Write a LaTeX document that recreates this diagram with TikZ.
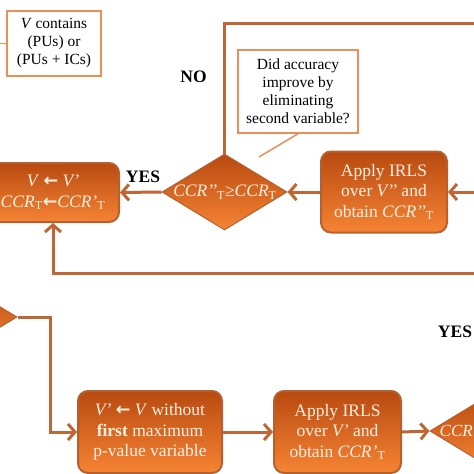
\documentclass[tikz,border=0pt]{standalone}
\usepackage{fontspec}
\setmainfont{Liberation Serif}
\newfontfamily\dv{DejaVu Sans}
\usetikzlibrary{shapes.geometric,arrows.meta}
\definecolor{lineC}{RGB}{192,102,52}
\definecolor{boxTop}{RGB}{184,74,16}
\definecolor{boxBot}{RGB}{246,132,52}
\definecolor{boxLine}{RGB}{182,96,48}
\definecolor{callC}{RGB}{236,142,88}
\definecolor{txtC}{RGB}{255,240,226}
\newcommand{\larr}{{\dv\bfseries ←}}
\newcommand{\sT}{\textsubscript{T}}
\begin{document}
\begin{tikzpicture}[x=1pt,y=-1pt,
  conn/.style={draw=lineC,line width=3pt},
  arr/.style={conn,-{Straight Barb[length=7pt,width=16pt]}},
  procbox/.style={rectangle,rounded corners=10pt,draw=boxLine,line width=2pt,
    top color=boxTop,bottom color=boxBot,text=txtC,align=center,
    font=\fontsize{17.5}{20.5}\selectfont,inner sep=0pt},
  decide/.style={diamond,draw=boxLine,line width=1pt,top color=boxTop,
    bottom color=boxBot,inner sep=0pt,minimum width=125pt,minimum height=76pt},
  dtext/.style={text=txtC,font=\fontsize{17.5}{20}\selectfont,inner sep=0pt},
  callbox/.style={rectangle,draw=callC,line width=1.5pt,fill=white,align=center,
    text=black,font=\fontsize{15.5}{18}\selectfont,inner sep=0pt},
  callline/.style={draw=callC,line width=1.5pt},
  answer/.style={font=\fontsize{17.5}{20}\selectfont\bfseries,text=black,inner sep=0pt}
]
\useasboundingbox (0,0) rectangle (474,474);
\clip (0,0) rectangle (474,474);

% callouts
\node[callbox,minimum width=94pt,minimum height=65pt] (call1) at (54,43.5)
  {\textit{V} contains\\(PUs) or\\(PUs + ICs)};
\node[callbox,minimum width=120pt,minimum height=83pt] (call2) at (298,91.5)
  {Did accuracy\\improve by\\eliminating\\second variable?};

% process boxes
\node[procbox,minimum width=132pt,minimum height=59pt] (vbox) at (53,192.5)
  {\textit{V} \larr{} \textit{V’}\\\textit{CCR}\sT\larr\textit{CCR’}\sT};
\node[procbox,minimum width=126pt,minimum height=81pt] (apply2) at (384,192)
  {Apply IRLS\\over \textit{V’’} and\\obtain \textit{CCR’’}\sT};
\node[procbox,minimum width=144pt,minimum height=82pt] (box3) at (150,432)
  {\textit{V’} \larr{} \textit{V} without\\\textbf{first} maximum\\p-value variable};
\node[procbox,minimum width=127pt,minimum height=82pt] (box4) at (337.5,432)
  {Apply IRLS\\over \textit{V’} and\\obtain \textit{CCR’}\sT};

% decisions
\node[decide] (d1) at (224.5,192) {};
\node[dtext] (d1t) at (225,192) {\textit{CCR’’}\sT≥\textit{CCR}\sT};
\node[decide] (d0) at (-45.5,317) {};
\node[decide] (d2) at (492.5,431) {};
\node[dtext,anchor=west,font=\fontsize{17}{20}\selectfont] (d2t) at (439.5,431) {\textit{CCR}};

% labels
\node[answer] (yes1) at (143,177) {YES};
\node[answer] (no1) at (193.5,77) {NO};
\node[answer] (yes2) at (455,332) {YES};

% free ends
\coordinate (tr) at (482,23);
\coordinate (rin) at (482,192);
\coordinate (br) at (482,273.5);
\coordinate (kink) at (50,317);
\coordinate (c2tip) at (259,157);
\coordinate (c1tip) at (-5,43.5);

% connectors
\draw[conn] (d1.north) |- (tr);
\draw[arr] (rin) -- (apply2.east);
\draw[arr] (apply2.west) -- (d1.east);
\draw[arr] (d1.west) -- (vbox.east);
\draw[arr] (br) -| (vbox.south);
\draw[arr] (d0.east) -- (kink) |- (box3.west);
\draw[arr] (box3.east) -- (box4.west);
\draw[arr] (box4.east) -- (d2.west);
\draw[callline] (call2.south) -- (c2tip);
\draw[callline] (call1.west) -- (c1tip);
\end{tikzpicture}
\end{document}
